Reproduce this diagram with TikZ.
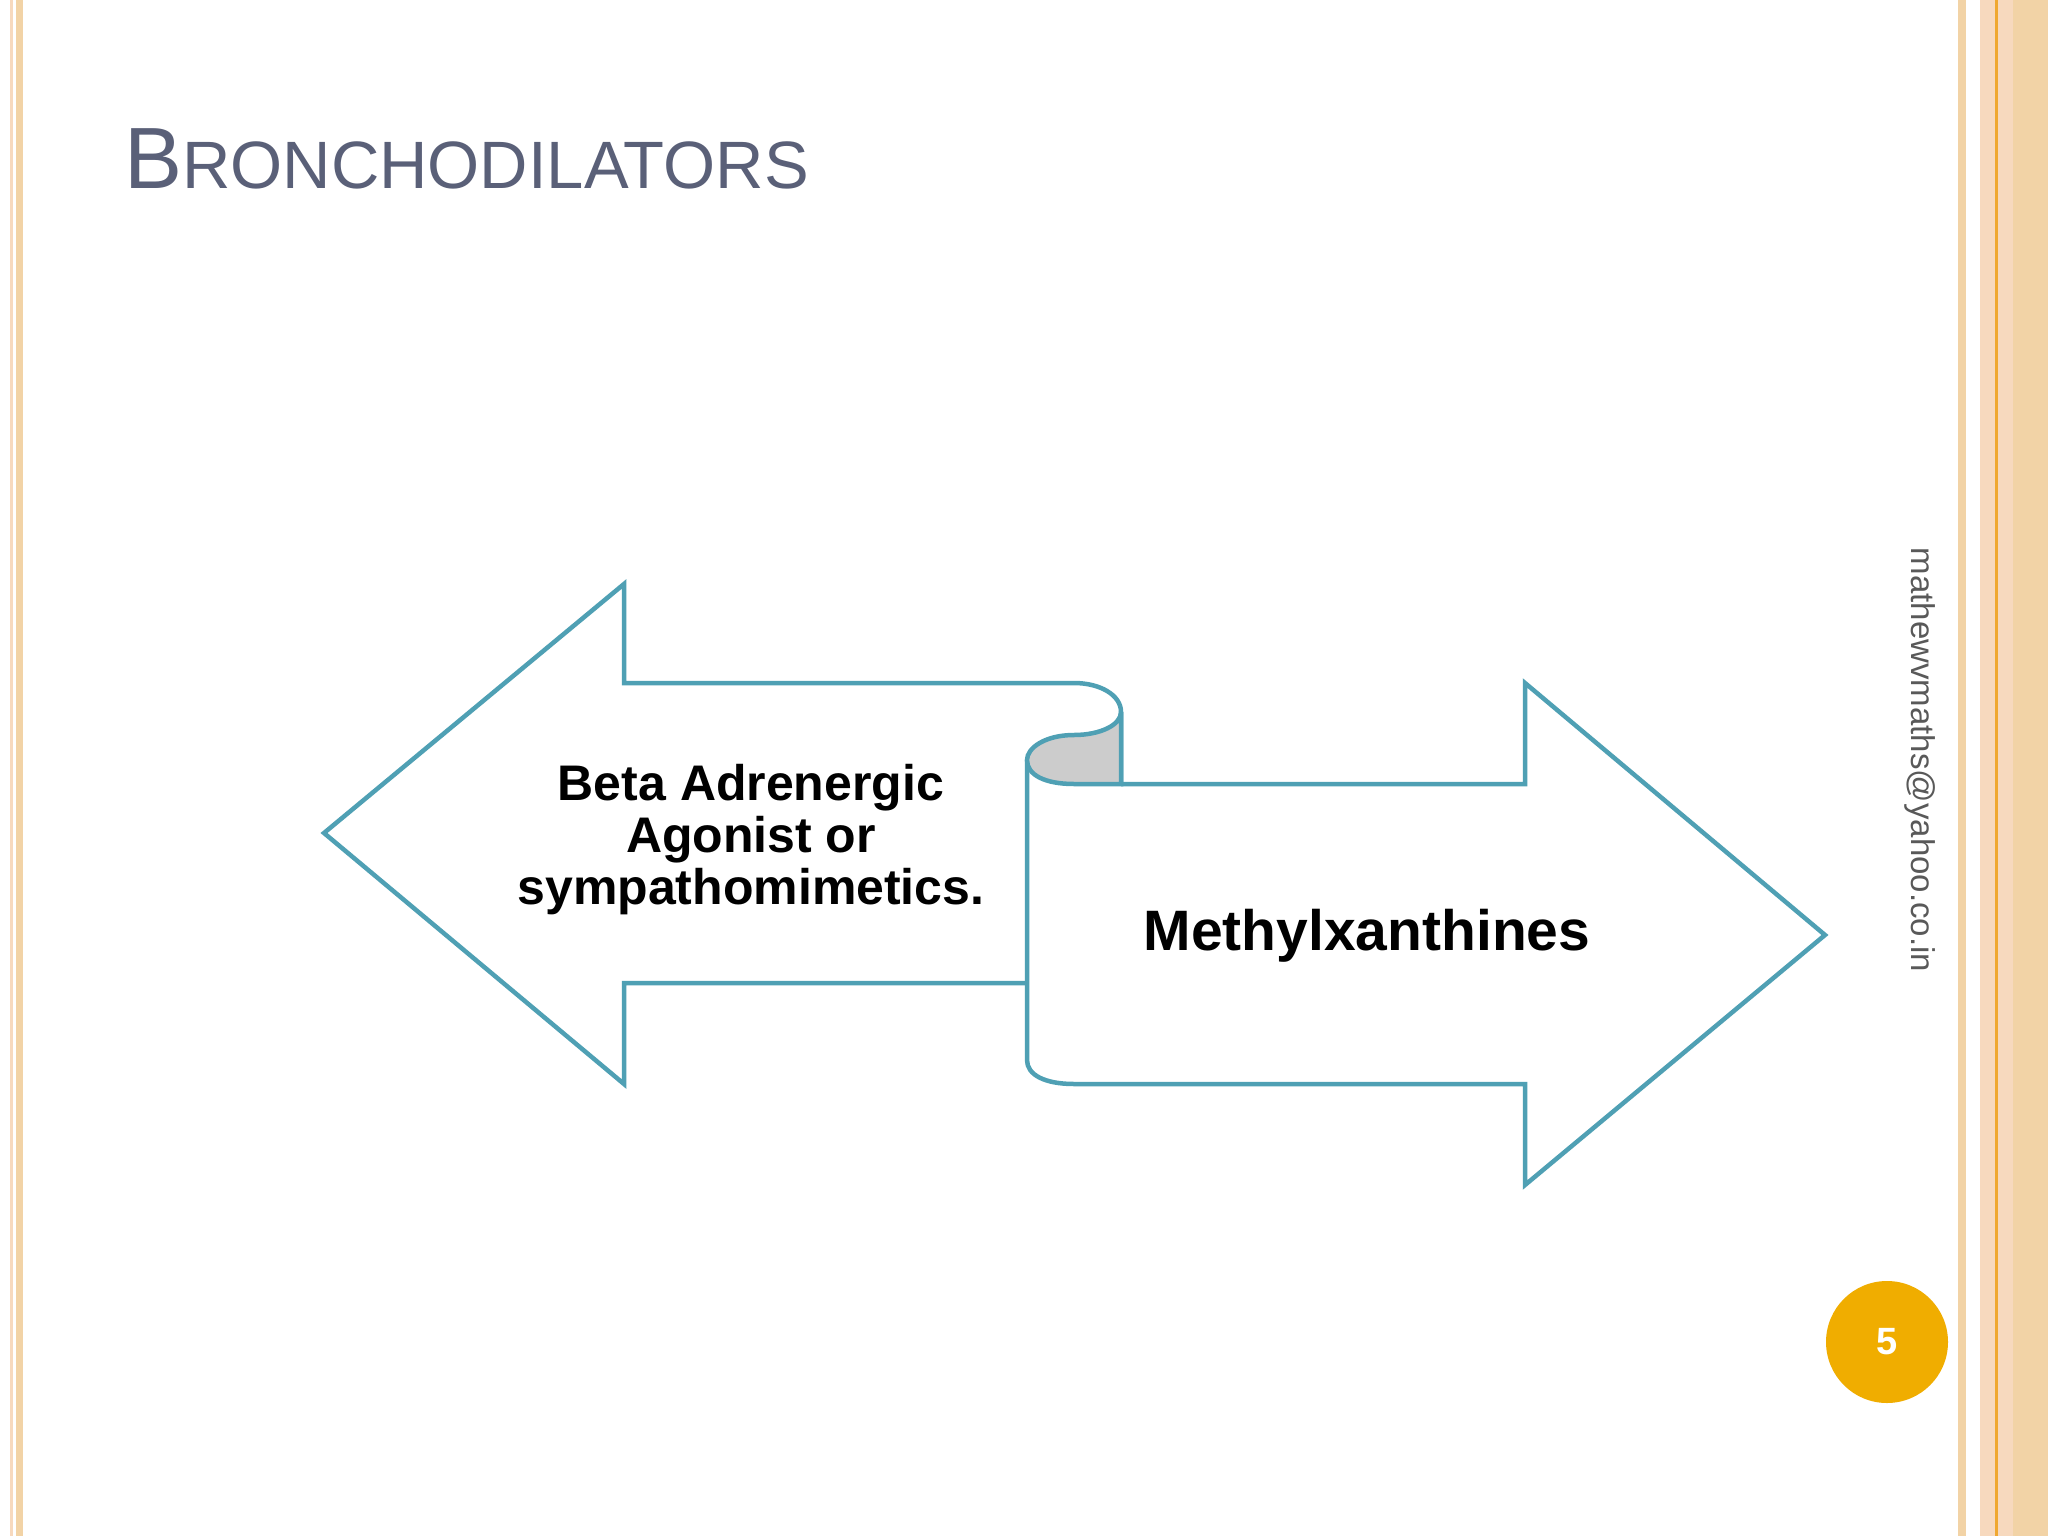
\documentclass[tikz,border=0pt]{standalone}
\usepackage{fontspec}
\setmainfont{Liberation Sans}
\begin{document}
\begin{tikzpicture}[x=1pt,y=-1pt,
  outl/.style={draw=arrowc,line width=4.5pt,line join=miter},
  lbl/.style={font=\bfseries\fontsize{50}{52}\selectfont,align=center,text=black}]
\definecolor{arrowc}{HTML}{4FA0B4}
\definecolor{tan}{HTML}{F2D3A6}
\definecolor{peach}{HTML}{F7D9BE}
\definecolor{orng}{HTML}{F0A830}
\definecolor{circc}{HTML}{F0AD00}
\definecolor{titlec}{HTML}{5A6078}
\useasboundingbox (0,0) rectangle (2048,1536);
\fill[white] (0,0) rectangle (2048,1536);
% borders
\fill[peach] (10,0) rectangle (13,1536);
\fill[tan] (16,0) rectangle (23,1536);
\fill[tan] (1958,0) rectangle (1966,1536);
\fill[peach] (1980,0) rectangle (2013,1536);
\fill[orng] (1995,0) rectangle (1998,1536);
\fill[tan] (2013,0) rectangle (2048,1536);
% title
\node[anchor=base west,inner sep=0,text=titlec,font=\fontsize{87}{87}\selectfont] (title) at (124,189)
  {B\fontsize{67}{67}\selectfont RONCHODILATORS};
% left arrow
\draw[outl,fill=white] (1027,983) -- (624,983) -- (624,1084) -- (324,833) -- (624,584) -- (624,683)
  -- (1074,683) .. controls (1100,683) and (1121,695) .. (1121,712) -- (1121,784);
% right arrow
\draw[outl,fill=white] (1121,784) -- (1525,784) -- (1525,683) -- (1825,935) -- (1525,1185) -- (1525,1084)
  -- (1074,1084) .. controls (1045,1084) and (1027,1075) .. (1027,1060) -- (1027,760);
% curl
\draw[outl,fill=black!20] (1121,712) .. controls (1121,725) and (1100,735) .. (1074,735)
  .. controls (1045,735) and (1027,748) .. (1027,760)
  .. controls (1027,775) and (1045,784) .. (1074,784) -- (1121,784) -- cycle;
\node[lbl] (beta) at (751,840) {Beta Adrenergic\\Agonist or\\sympathomimetics.};
\node[lbl,font=\bfseries\fontsize{57}{64}\selectfont] (meth) at (1367,936) {Methylxanthines};
\node[rotate=-90,text=black!65,font=\fontsize{33}{33}\selectfont] (mail) at (1920,760) {mathewvmaths@yahoo.co.in};
\node[circle,fill=circc,minimum size=122pt,inner sep=0,text=white,font=\bfseries\fontsize{38}{38}\selectfont] (pg) at (1887,1342) {5};
\end{tikzpicture}
\end{document}
